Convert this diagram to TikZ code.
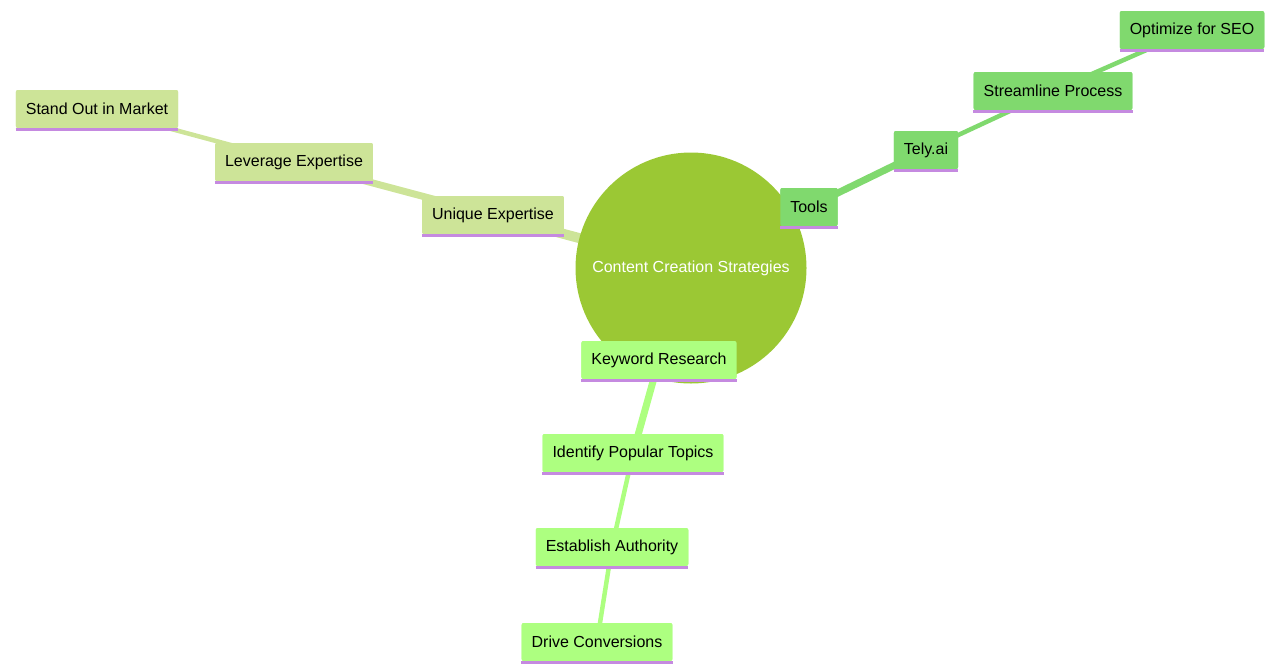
\documentclass[tikz,border=0pt]{standalone}
\usepackage{fontspec}
\setmainfont{Liberation Sans}
\definecolor{cl}{HTML}{CDE498}
\definecolor{cr}{HTML}{80D96E}
\definecolor{cb}{HTML}{ADFF80}
\definecolor{croot}{HTML}{9BC834}
\definecolor{cu}{HTML}{C58AE0}
\begin{document}
\begin{tikzpicture}[x=1pt,y=-1pt,
  leaf/.style={minimum height=38pt,inner xsep=10pt,font=\fontsize{16}{19}\selectfont,text=black,rounded corners=2pt},
  e1/.style={line width=10pt},e2/.style={line width=7pt},e3/.style={line width=4.5pt}]
\useasboundingbox (0,0) rectangle (1280,672);
\coordinate (rc) at (691,268);
\node[leaf,fill=cl] (a1) at (493,215) {Unique Expertise};
\node[leaf,fill=cl] (a2) at (294,162) {Leverage Expertise};
\node[leaf,fill=cl] (a3) at (97,109) {Stand Out in Market};
\node[leaf,fill=cr] (b1) at (809,207) {Tools};
\node[leaf,fill=cr] (b2) at (926,150) {Tely.ai};
\node[leaf,fill=cr] (b3) at (1053,91) {Streamline Process};
\node[leaf,fill=cr] (b4) at (1192,30) {Optimize for SEO};
\node[leaf,fill=cb] (c1) at (659,360) {Keyword Research};
\node[leaf,fill=cb] (c2) at (633,453) {Identify Popular Topics};
\node[leaf,fill=cb] (c3) at (612,547) {Establish Authority};
\node[leaf,fill=cb] (c4) at (597,642) {Drive Conversions};
\begin{scope}[on background layer/.style={}]
\end{scope}
\draw[cl,e1] (rc) -- (a1.center);
\draw[cl,e2] (a1.center) -- (a2.center);
\draw[cl,e3] (a2.center) -- (a3.center);
\draw[cr,e1] (rc) -- (b1.center);
\draw[cr,e2] (b1.center) -- (b2.center);
\draw[cr,e3] (b2.center) -- (b3.center);
\draw[cr,e3] (b3.center) -- (b4.center);
\draw[cb,e1] (rc) -- (c1.center);
\draw[cb,e2] (c1.center) -- (c2.center);
\draw[cb,e3] (c2.center) -- (c3.center);
\draw[cb,e3] (c3.center) -- (c4.center);
\node[circle,fill=croot,minimum size=231pt,text=white,font=\fontsize{16}{19}\selectfont] (root) at (rc) {Content Creation Strategies};
\foreach \n/\c in {a1/cl,a2/cl,a3/cl,b1/cr,b2/cr,b3/cr,b4/cr,c1/cb,c2/cb,c3/cb,c4/cb}{
  \node[leaf,fill=\c] at (\n) {\phantom{X}};
}
\node[leaf,fill=cl] at (493,215) {Unique Expertise};
\node[leaf,fill=cl] at (294,162) {Leverage Expertise};
\node[leaf,fill=cl] at (97,109) {Stand Out in Market};
\node[leaf,fill=cr] at (809,207) {Tools};
\node[leaf,fill=cr] at (926,150) {Tely.ai};
\node[leaf,fill=cr] at (1053,91) {Streamline Process};
\node[leaf,fill=cr] at (1192,30) {Optimize for SEO};
\node[leaf,fill=cb] at (659,360) {Keyword Research};
\node[leaf,fill=cb] at (633,453) {Identify Popular Topics};
\node[leaf,fill=cb] at (612,547) {Establish Authority};
\node[leaf,fill=cb] at (597,642) {Drive Conversions};
\foreach \n in {a1,a2,a3,b1,b2,b3,b4,c1,c2,c3,c4}{
  \draw[cu,line width=3pt] ([yshift=-1.5pt]\n.south west) -- ([yshift=-1.5pt]\n.south east);
}
\end{tikzpicture}
\end{document}
